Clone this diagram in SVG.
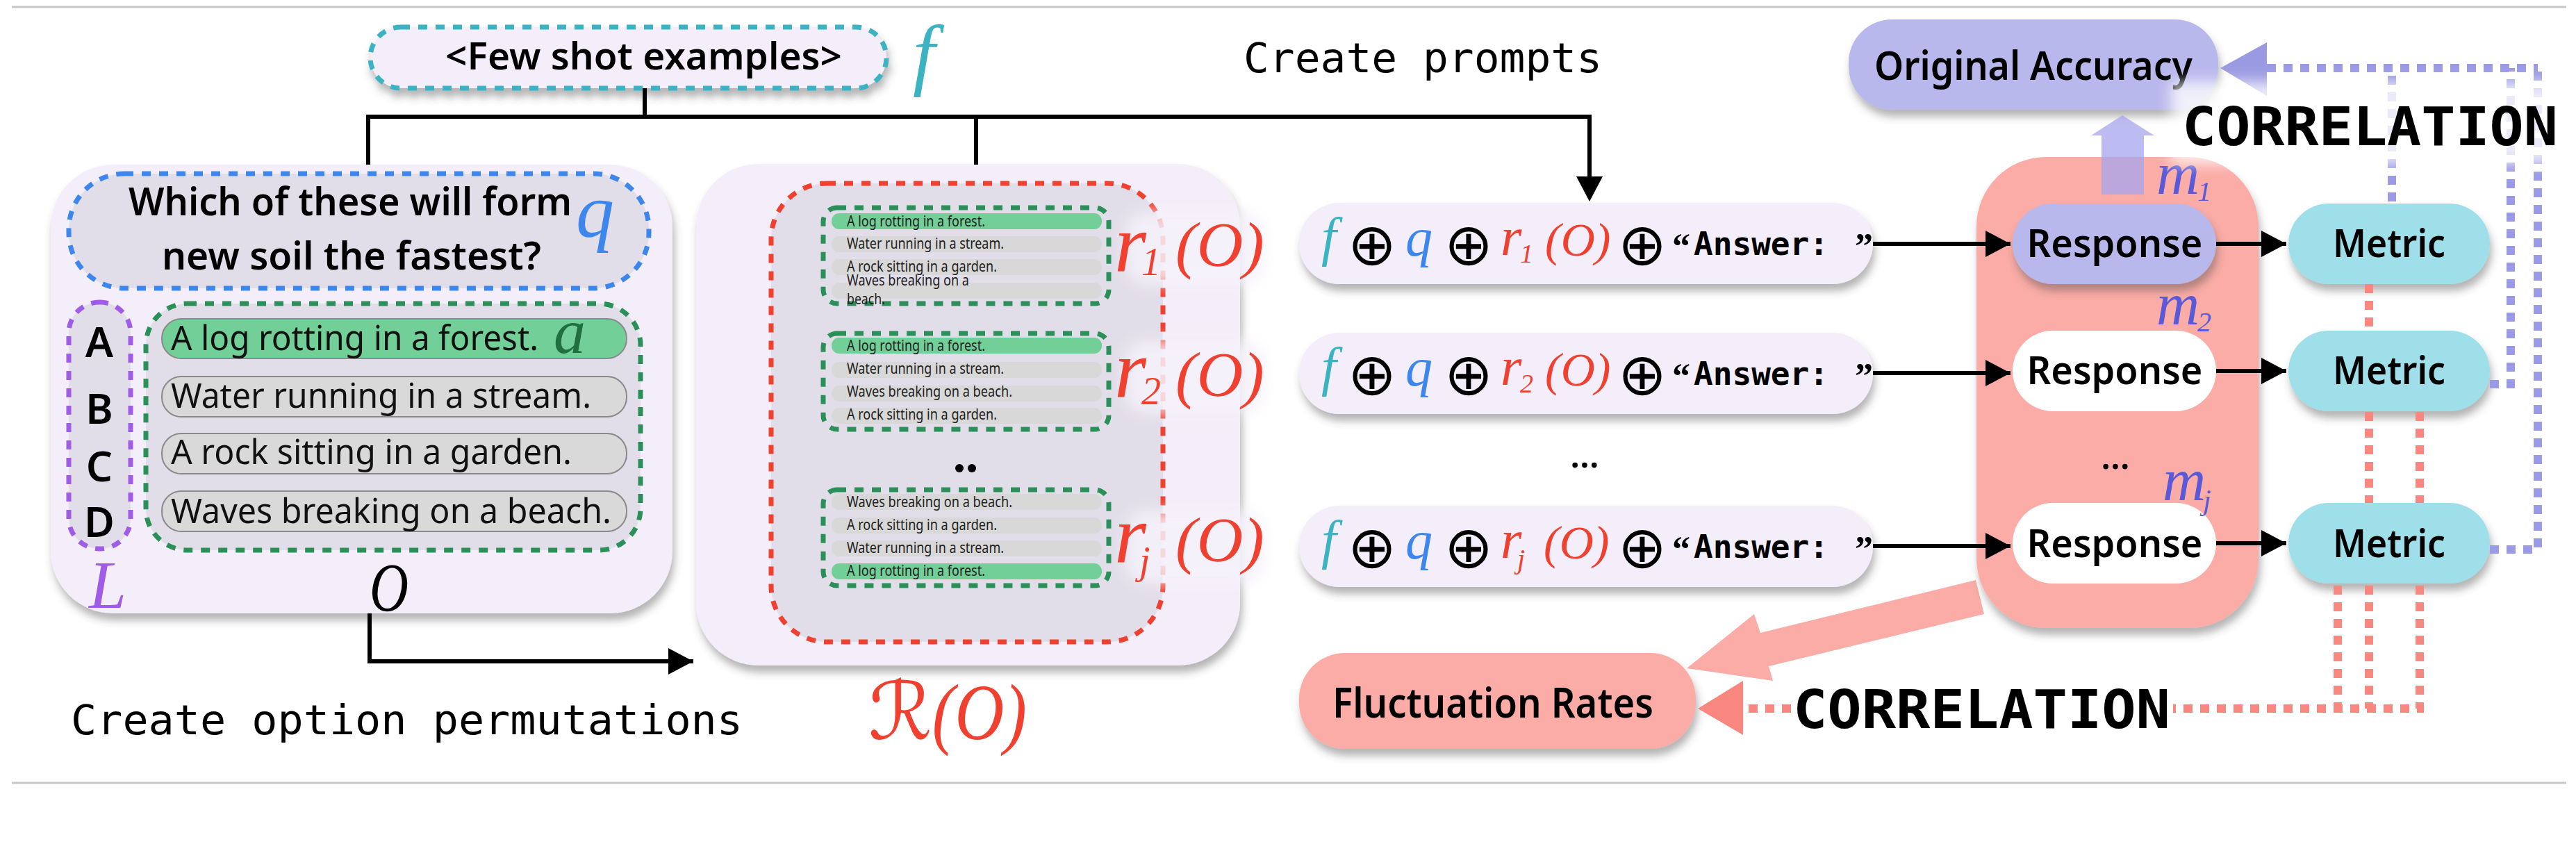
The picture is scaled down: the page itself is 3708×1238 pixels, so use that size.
<svg xmlns="http://www.w3.org/2000/svg" width="3708" height="1238" viewBox="0 0 3708 1238">
<defs>
<filter id="sh" x="-15%" y="-20%" width="130%" height="170%">
<feDropShadow dx="3" dy="10" stdDeviation="6" flood-color="#444" flood-opacity="0.4"/>
</filter>
<filter id="blur" x="-20%" y="-50%" width="140%" height="200%"><feGaussianBlur stdDeviation="10"/></filter>
<marker id="ah" viewBox="0 0 36 38" refX="36" refY="19" markerWidth="36" markerHeight="38" markerUnits="userSpaceOnUse" orient="auto"><path d="M0,0 L36,19 L0,38 z" fill="#000"/></marker>
</defs>
<style>
.sans{font-family:"Noto Sans","Liberation Sans",sans-serif;font-weight:600;fill:#000}
.opt{font-family:"Noto Sans","Liberation Sans",sans-serif;font-weight:400;fill:#111}
.small{font-family:"Noto Sans","Liberation Sans",sans-serif;font-weight:400;font-size:21px;fill:#222}
.mono{font-family:"DejaVu Sans Mono","Liberation Mono",monospace;fill:#000}
.math{font-family:"Liberation Serif","DejaVu Serif",serif;font-style:italic}
.sym{font-family:"DejaVu Sans",sans-serif;fill:#000}
.panel{fill:#f3eef9}
.inner{fill:#e2dee9}
.dash{stroke-width:7;stroke-dasharray:13 12}
.conn{fill:none;stroke:#000;stroke-width:6}
.dotB{fill:none;stroke:#9a9ae6;stroke-width:12;stroke-dasharray:13 11}
.dotR{fill:none;stroke:#f7877f;stroke-width:12;stroke-dasharray:13 11}
.pill{fill:#d9d9d9;stroke:#8a8a8a;stroke-width:2}
.pillG{fill:#72cf98;stroke:#8a8a8a;stroke-width:2}
.sp{fill:#d8d8d8}
.spG{fill:#72cf98}
.teal{fill:#3bb3c3}
.blue{fill:#3d86ee}
.red{fill:#f0402f}
.mcol{fill:#5a5ad8}
.glow{fill:#f6f2fb;opacity:0.85}
</style>

<line x1="17" y1="10" x2="3694" y2="10" stroke="#c8c8c8" stroke-width="3"/>
<line x1="17" y1="1127" x2="3694" y2="1127" stroke="#c8c8c8" stroke-width="3"/>

<!-- big salmon arrow (behind panel) -->
<polygon points="2428,962 2525,884 2534,911 2844,835 2856,884 2546,959 2552,980" fill="#fbaca6"/>

<g id="fewshot">
<rect x="533" y="39" width="743" height="88" rx="44" class="panel dash" stroke="#3bb3c3" filter="url(#sh)"/>
<text x="641" y="100" class="sans" font-size="54" textLength="571" lengthAdjust="spacingAndGlyphs">&lt;Few shot examples&gt;</text>
<text x="1314" y="116" class="math teal" font-size="115">f</text>
</g>

<text x="1790" y="104" class="mono" font-size="58" textLength="516" lengthAdjust="spacingAndGlyphs">Create prompts</text>

<g id="question-panel">
<rect x="73" y="237" width="895" height="646" rx="90" class="panel" filter="url(#sh)"/>
<rect x="99" y="250" width="835" height="165" rx="80" class="inner dash" stroke="#3d86ee"/>
<text x="185" y="310" class="sans" font-size="56" textLength="638" lengthAdjust="spacingAndGlyphs">Which of these will form</text>
<text x="233" y="388" class="sans" font-size="56" textLength="546" lengthAdjust="spacingAndGlyphs">new soil  the fastest?</text>
<text x="829" y="341" class="math blue" font-size="110">q</text>
<rect x="99" y="435" width="89" height="355" rx="44" class="inner dash" stroke="#a05ce6"/>
<g class="sans" font-size="60" font-weight="700" text-anchor="middle">
<text x="143" y="514">A</text><text x="143" y="610">B</text><text x="143" y="693">C</text><text x="143" y="773">D</text>
</g>
<rect x="210" y="437" width="712" height="355" rx="60" class="inner dash" stroke="#2a9058"/>
<rect x="233" y="459" width="669" height="57" rx="28" class="pillG"/>
<rect x="233" y="542" width="669" height="58" rx="28" class="pill"/>
<rect x="233" y="624" width="669" height="58" rx="28" class="pill"/>
<rect x="233" y="707" width="669" height="58" rx="28" class="pill"/>
<text x="246" y="504" class="opt" font-size="50" textLength="529" lengthAdjust="spacingAndGlyphs">A log rotting in a forest.</text>
<text x="246" y="587" class="opt" font-size="50" textLength="605" lengthAdjust="spacingAndGlyphs">Water running in a stream.</text>
<text x="246" y="668" class="opt" font-size="50" textLength="577" lengthAdjust="spacingAndGlyphs">A rock sitting in a garden.</text>
<text x="246" y="753" class="opt" font-size="50" textLength="634" lengthAdjust="spacingAndGlyphs">Waves breaking on a beach.</text>
<text x="797" y="508" class="math" font-size="92" fill="#1f6f3f">a</text>
<text x="128" y="875" class="math" font-size="97" fill="#a05ce6">L</text>
<text x="532" y="879" class="math" font-size="100" fill="#000" textLength="56" lengthAdjust="spacingAndGlyphs">O</text>
</g>

<g id="permutation-panel">
<rect x="1002" y="236" width="783" height="722" rx="90" class="panel" filter="url(#sh)"/>
<rect x="1110" y="264" width="564" height="660" rx="80" class="inner dash" stroke="#f0402f"/>
<rect x="1185" y="299" width="411" height="138" rx="20" fill="none" class="dash" stroke="#2a9058"/>
<rect x="1185" y="480" width="411" height="138" rx="20" fill="none" class="dash" stroke="#2a9058"/>
<rect x="1185" y="705" width="411" height="138" rx="20" fill="none" class="dash" stroke="#2a9058"/>
<rect x="1197" y="307" width="389" height="23" rx="11" class="spG"/>
<rect x="1197" y="340" width="389" height="23" rx="11" class="sp"/>
<rect x="1197" y="373" width="389" height="23" rx="11" class="sp"/>
<rect x="1197" y="407" width="389" height="23" rx="11" class="sp"/>
<rect x="1197" y="486" width="389" height="23" rx="11" class="spG"/>
<rect x="1197" y="521" width="389" height="23" rx="11" class="sp"/>
<rect x="1197" y="555" width="389" height="23" rx="11" class="sp"/>
<rect x="1197" y="587" width="389" height="23" rx="11" class="sp"/>
<rect x="1197" y="711" width="389" height="23" rx="11" class="sp"/>
<rect x="1197" y="745" width="389" height="23" rx="11" class="sp"/>
<rect x="1197" y="778" width="389" height="23" rx="11" class="sp"/>
<rect x="1197" y="811" width="389" height="23" rx="11" class="spG"/>
<text x="1219" y="326" class="small" textLength="199" lengthAdjust="spacingAndGlyphs">A log rotting in a forest.</text>
<text x="1219" y="358" class="small" textLength="226" lengthAdjust="spacingAndGlyphs">Water running in a stream.</text>
<text x="1219" y="391" class="small" textLength="216" lengthAdjust="spacingAndGlyphs">A rock sitting in a garden.</text>
<text x="1219" y="411" class="small" textLength="176" lengthAdjust="spacingAndGlyphs">Waves breaking on a</text>
<text x="1219" y="438" class="small" textLength="55" lengthAdjust="spacingAndGlyphs">beach.</text>
<text x="1219" y="505" class="small" textLength="199" lengthAdjust="spacingAndGlyphs">A log rotting in a forest.</text>
<text x="1219" y="538" class="small" textLength="226" lengthAdjust="spacingAndGlyphs">Water running in a stream.</text>
<text x="1219" y="571" class="small" textLength="238" lengthAdjust="spacingAndGlyphs">Waves breaking on a beach.</text>
<text x="1219" y="604" class="small" textLength="216" lengthAdjust="spacingAndGlyphs">A rock sitting in a garden.</text>
<text x="1219" y="730" class="small" textLength="238" lengthAdjust="spacingAndGlyphs">Waves breaking on a beach.</text>
<text x="1219" y="763" class="small" textLength="216" lengthAdjust="spacingAndGlyphs">A rock sitting in a garden.</text>
<text x="1219" y="796" class="small" textLength="226" lengthAdjust="spacingAndGlyphs">Water running in a stream.</text>
<text x="1219" y="829" class="small" textLength="199" lengthAdjust="spacingAndGlyphs">A log rotting in a forest.</text>
<circle cx="1381" cy="674" r="6" fill="#000"/>
<circle cx="1399" cy="674" r="6" fill="#000"/>
<rect x="1620" y="305" width="200" height="105" rx="30" class="glow" filter="url(#blur)"/>
<rect x="1620" y="490" width="200" height="105" rx="30" class="glow" filter="url(#blur)"/>
<rect x="1620" y="735" width="200" height="105" rx="30" class="glow" filter="url(#blur)"/>
<text class="math red"><tspan x="1604" y="391" font-size="118">r</tspan><tspan x="1643" y="396" font-size="56">1</tspan><tspan x="1692" y="383" font-size="92">(O)</tspan></text>
<text class="math red"><tspan x="1604" y="572" font-size="118">r</tspan><tspan x="1643" y="582" font-size="56">2</tspan><tspan x="1692" y="570" font-size="92">(O)</tspan></text>
<text class="math red"><tspan x="1604" y="810" font-size="118">r</tspan><tspan x="1640" y="826" font-size="56">j</tspan><tspan x="1692" y="808" font-size="92">(O)</tspan></text>
<text x="1250" y="1064" class="red" font-size="115"><tspan font-family="DejaVu Sans, DejaVu Serif, sans-serif">ℛ</tspan><tspan class="math" textLength="136" lengthAdjust="spacingAndGlyphs">(O)</tspan></text>
</g>

<text x="102" y="1057" class="mono" font-size="58" textLength="967" lengthAdjust="spacingAndGlyphs">Create option permutations</text>

<g id="prompt-1">
<rect x="1870" y="292" width="826" height="117" rx="58" class="panel" filter="url(#sh)"/>
<text x="1902" y="367" class="math teal" font-size="78">f</text>
<text x="1975" y="381" class="sym" font-size="84" text-anchor="middle">⊕</text>
<text x="2023" y="368" class="math blue" font-size="78">q</text>
<text x="2114" y="381" class="sym" font-size="84" text-anchor="middle">⊕</text>
<text class="math red"><tspan x="2160" y="367" font-size="78">r</tspan><tspan x="2188" y="378" font-size="38">1</tspan><tspan x="2224" y="368" font-size="68">(O)</tspan></text>
<text x="2364" y="381" class="sym" font-size="84" text-anchor="middle">⊕</text>
<text x="2407" y="372" font-family="Liberation Serif, serif" font-weight="700" font-size="52">“</text>
<text x="2438" y="367" class="mono" font-size="46" font-weight="700" textLength="194" lengthAdjust="spacingAndGlyphs">Answer:</text>
<text x="2670" y="372" font-family="Liberation Serif, serif" font-weight="700" font-size="52">”</text>
</g>
<g id="prompt-2" transform="translate(0,187)">
<rect x="1870" y="292" width="826" height="117" rx="58" class="panel" filter="url(#sh)"/>
<text x="1902" y="367" class="math teal" font-size="78">f</text>
<text x="1975" y="381" class="sym" font-size="84" text-anchor="middle">⊕</text>
<text x="2023" y="368" class="math blue" font-size="78">q</text>
<text x="2114" y="381" class="sym" font-size="84" text-anchor="middle">⊕</text>
<text class="math red"><tspan x="2160" y="367" font-size="78">r</tspan><tspan x="2188" y="378" font-size="38">2</tspan><tspan x="2224" y="368" font-size="68">(O)</tspan></text>
<text x="2364" y="381" class="sym" font-size="84" text-anchor="middle">⊕</text>
<text x="2407" y="372" font-family="Liberation Serif, serif" font-weight="700" font-size="52">“</text>
<text x="2438" y="367" class="mono" font-size="46" font-weight="700" textLength="194" lengthAdjust="spacingAndGlyphs">Answer:</text>
<text x="2670" y="372" font-family="Liberation Serif, serif" font-weight="700" font-size="52">”</text>
</g>
<text x="2281" y="673" class="sans" font-size="50" font-weight="700" text-anchor="middle">…</text>
<g id="prompt-j" transform="translate(0,436)">
<rect x="1870" y="292" width="826" height="117" rx="58" class="panel" filter="url(#sh)"/>
<text x="1902" y="367" class="math teal" font-size="78">f</text>
<text x="1975" y="381" class="sym" font-size="84" text-anchor="middle">⊕</text>
<text x="2023" y="368" class="math blue" font-size="78">q</text>
<text x="2114" y="381" class="sym" font-size="84" text-anchor="middle">⊕</text>
<text class="math red"><tspan x="2160" y="367" font-size="78">r</tspan><tspan x="2184" y="382" font-size="40">j</tspan><tspan x="2222" y="368" font-size="68">(O)</tspan></text>
<text x="2364" y="381" class="sym" font-size="84" text-anchor="middle">⊕</text>
<text x="2407" y="372" font-family="Liberation Serif, serif" font-weight="700" font-size="52">“</text>
<text x="2438" y="367" class="mono" font-size="46" font-weight="700" textLength="194" lengthAdjust="spacingAndGlyphs">Answer:</text>
<text x="2670" y="372" font-family="Liberation Serif, serif" font-weight="700" font-size="52">”</text>
</g>

<g id="model-panel">
<rect x="2845" y="226" width="406" height="678" rx="100" fill="#fbaca6" filter="url(#sh)"/>
</g>
<g id="response-1">
<rect x="2897" y="293" width="293" height="116" rx="58" fill="#b9b8ec" filter="url(#sh)"/>
<text x="3044" y="370" class="sans" font-size="56" text-anchor="middle" textLength="253" lengthAdjust="spacingAndGlyphs">Response</text>
</g>
<g id="response-2">
<rect x="2897" y="476" width="293" height="116" rx="58" fill="#fff"/>
<text x="3044" y="553" class="sans" font-size="56" text-anchor="middle" textLength="253" lengthAdjust="spacingAndGlyphs">Response</text>
</g>
<g id="response-j">
<rect x="2897" y="724" width="293" height="116" rx="58" fill="#fff"/>
<text x="3044" y="802" class="sans" font-size="56" text-anchor="middle" textLength="253" lengthAdjust="spacingAndGlyphs">Response</text>
</g>
<text x="3045" y="675" class="sans" font-size="50" font-weight="700" text-anchor="middle">…</text>
<g class="math mcol">
<text><tspan x="3104" y="279" font-size="86">m</tspan><tspan x="3163" y="289" font-size="40">1</tspan></text>
<text><tspan x="3104" y="467" font-size="86">m</tspan><tspan x="3163" y="477" font-size="40">2</tspan></text>
<text><tspan x="3113" y="720" font-size="86">m</tspan><tspan x="3171" y="734" font-size="42">j</tspan></text>
</g>

<g id="original-accuracy">
<rect x="2661" y="28" width="532" height="130" rx="62" fill="#b9b8ec" filter="url(#sh)"/>
<text x="2927" y="115" class="sans" font-size="58" text-anchor="middle" textLength="458" lengthAdjust="spacingAndGlyphs">Original Accuracy</text>
</g>

<g id="metric-1">
<rect x="3294" y="293" width="290" height="116" rx="58" fill="#9edfe9" filter="url(#sh)"/>
<text x="3439" y="370" class="sans" font-size="56" text-anchor="middle" textLength="162" lengthAdjust="spacingAndGlyphs">Metric</text>
</g>
<g id="metric-2">
<rect x="3294" y="476" width="290" height="116" rx="58" fill="#9edfe9" filter="url(#sh)"/>
<text x="3439" y="553" class="sans" font-size="56" text-anchor="middle" textLength="162" lengthAdjust="spacingAndGlyphs">Metric</text>
</g>
<g id="metric-j">
<rect x="3294" y="724" width="290" height="116" rx="58" fill="#9edfe9" filter="url(#sh)"/>
<text x="3439" y="802" class="sans" font-size="56" text-anchor="middle" textLength="162" lengthAdjust="spacingAndGlyphs">Metric</text>
</g>

<g id="fluctuation-rates">
<rect x="1870" y="940" width="571" height="138" rx="66" fill="#fbaca6" filter="url(#sh)"/>
<text x="2149" y="1033" class="sans" font-size="60" text-anchor="middle" textLength="462" lengthAdjust="spacingAndGlyphs">Fluctuation Rates</text>
</g>

<g id="connectors">
<path class="conn" d="M928,127 V168"/>
<path class="conn" stroke-width="7" d="M530,237 V168 H2288 V260"/>
<path class="conn" d="M1405,168 V237"/>
<path d="M2269,254 L2307,254 L2288,290 z" fill="#000"/>
<path class="conn" d="M532,883 V952 H998" marker-end="url(#ah)"/>
<path class="conn" stroke-width="7" d="M2696,351 H2894" marker-end="url(#ah)"/>
<path class="conn" stroke-width="7" d="M2696,537 H2894" marker-end="url(#ah)"/>
<path class="conn" stroke-width="7" d="M2696,786 H2894" marker-end="url(#ah)"/>
<path class="conn" stroke-width="7" d="M3190,351 H3291" marker-end="url(#ah)"/>
<path class="conn" stroke-width="7" d="M3190,534 H3291" marker-end="url(#ah)"/>
<path class="conn" stroke-width="7" d="M3190,782 H3291" marker-end="url(#ah)"/>
<polygon points="3025,280 3025,195 3010,195 3055,166 3101,195 3086,195 3086,280" fill="#a6a6ee" opacity="0.75"/>
<path class="dotB" d="M3263,98 H3653"/>
<path class="dotB" d="M3443,290 V98"/>
<path class="dotB" d="M3584,553 H3614 V98"/>
<path class="dotB" d="M3584,791 H3653 V98"/>
<polygon points="3196,98 3263,61 3263,138" fill="#9a9ae2"/>
<path class="dotR" d="M3410,409 V476"/>
<path class="dotR" d="M3410,593 V724"/>
<path class="dotR" d="M3483,593 V724"/>
<path class="dotR" d="M3365,843 V1020"/>
<path class="dotR" d="M3410,843 V1020"/>
<path class="dotR" d="M3483,843 V1020 H3128"/>
<path class="dotR" d="M2578,1020 H2509"/>
<polygon points="2444,1020 2509,980 2509,1058" fill="#f7877f"/>
</g>

<rect x="3125" y="118" width="575" height="118" fill="#fff" opacity="0.8" filter="url(#blur)"/>
<text x="3141" y="209" class="mono" font-size="76" font-weight="700" textLength="541" lengthAdjust="spacingAndGlyphs">CORRELATION</text>
<text x="2581" y="1048" class="mono" font-size="76" font-weight="700" textLength="543" lengthAdjust="spacingAndGlyphs">CORRELATION</text>
</svg>
